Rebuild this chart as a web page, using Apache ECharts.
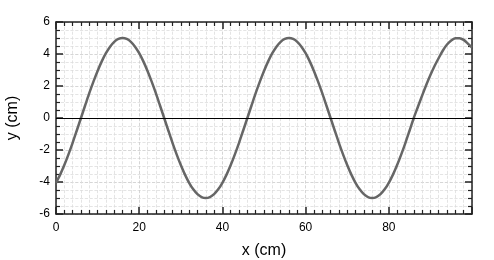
<!DOCTYPE html>
<html><head><meta charset="utf-8">
<script src="https://cdn.jsdelivr.net/npm/echarts@6/dist/echarts.min.js"></script>
<style>html,body{margin:0;padding:0;background:#fff}#c{width:494px;height:260px}</style>
</head><body><div id="c"></div>
<script>
const xValues = [0,1,2,3,4,5,6,7,8,9,10,11,12,13,14,15,16,17,18,19,20,21,22,23,24,25,26,27,28,29,30,31,32,33,34,35,36,37,38,39,40,41,42,43,44,45,46,47,48,49,50,51,52,53,54,55,56,57,58,59,60,61,62,63,64,65,66,67,68,69,70,71,72,73,74,75,76,77,78,79,80,81,82,83,84,85,86,87,88,89,90,91,92,93,94,95,96,97,98,99,100];
const yValues = [
 -4.05,-3.54,-2.94,-2.27,-1.55,-0.78,0,0.78,1.55,2.27,2.94,3.54,4.05,4.46,4.76,4.94,5,4.94,4.76,4.46,
 4.05,3.54,2.94,2.27,1.55,0.78,0,-0.78,-1.55,-2.27,-2.94,-3.54,-4.05,-4.46,-4.76,-4.94,-5,-4.94,-4.76,-4.46,
 -4.05,-3.54,-2.94,-2.27,-1.55,-0.78,0,0.78,1.55,2.27,2.94,3.54,4.05,4.46,4.76,4.94,5,4.94,4.76,4.46,
 4.05,3.54,2.94,2.27,1.55,0.78,0,-0.78,-1.55,-2.27,-2.94,-3.54,-4.05,-4.46,-4.76,-4.94,-5,-4.94,-4.76,-4.46,
 -4.05,-3.54,-2.94,-2.27,-1.55,-0.78,0,0.70,1.39,2.06,2.68,3.25,3.75,4.22,4.59,4.84,4.98,4.99,4.88,4.65,4.40];
const xTicks = [0,20,40,60,80];
const yTicks = [-6,-4,-2,0,2,4,6];

const font = 'Liberation Sans, Arial, Helvetica, sans-serif';
const chart = echarts.init(document.getElementById('c'));
const common = {
  axisLine:{show:true,onZero:false,lineStyle:{color:'#222',width:1.5}},
  axisTick:{show:true,inside:true,length:7,lineStyle:{color:'#222',width:1.5}},
  minorTick:{show:true,length:4,lineStyle:{color:'#222',width:1.2}},
};
function xa(pos, main){
  return Object.assign({}, common, {
    type:'value', position:pos, min:0, max:100, interval:20,
    minorTick:Object.assign({}, common.minorTick, {splitNumber:10}),
    axisLabel:{show:main, color:'#000', fontSize:12, fontFamily:font, margin:8,
      formatter:v=> xTicks.includes(v)? String(v):''},
    splitLine:{show:main, lineStyle:{color:'#ccc',type:'dashed',width:0.8}},
    minorSplitLine:{show:main, lineStyle:{color:'#ddd',type:'dashed',width:0.8}},
    name: main? 'x (cm)':'', nameLocation:'middle', nameGap:29,
    nameTextStyle:{fontSize:16,color:'#000',fontFamily:font}
  });
}
function ya(pos, main){
  return Object.assign({}, common, {
    type:'value', position:pos, min:-6, max:6, interval:2,
    minorTick:Object.assign({}, common.minorTick, {splitNumber:4}),
    axisLabel:{show:main, color:'#000', fontSize:12, fontFamily:font, margin:6,
      formatter:v=> yTicks.includes(v)? String(v):''},
    splitLine:{show:main, lineStyle:{color:'#ccc',type:'dashed',width:0.8}},
    minorSplitLine:{show:main, lineStyle:{color:'#ddd',type:'dashed',width:0.8}},
    name: main? 'y (cm)':'', nameLocation:'middle', nameGap:35,
    nameTextStyle:{fontSize:16,color:'#000',fontFamily:font}
  });
}
chart.setOption({
  animation:false,
  grid:{left:56,right:22,top:22,bottom:46,containLabel:false,outerBoundsMode:'none'},
  xAxis:[xa('bottom',true), xa('top',false)],
  yAxis:[ya('left',true), ya('right',false)],
  series:[{
    type:'line', xAxisIndex:0, yAxisIndex:0,
    data:xValues.map((x,i)=>[x,yValues[i]]),
    smooth:0.3, showSymbol:false,
    lineStyle:{color:'#666',width:2.5},
    markLine:{silent:true,symbol:'none',label:{show:false},
      lineStyle:{color:'#000',width:1,type:'solid'},
      data:[{yAxis:0}]}
  }]
});
</script></body></html>
